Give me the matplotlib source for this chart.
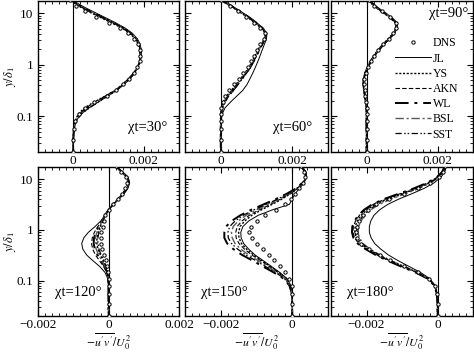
import numpy as np
import matplotlib
matplotlib.use("Agg")
import matplotlib.pyplot as plt
from matplotlib.ticker import FixedLocator, FixedFormatter, MultipleLocator, LogLocator, NullFormatter

plt.rcParams['font.family'] = ['Liberation Serif', 'DejaVu Serif']
plt.rcParams['mathtext.fontset'] = 'stix'

# common wall-normal grid y/delta_1
Y = [18, 14, 11, 8.5, 6.6, 5.2, 4.1, 3.2, 2.5, 1.95, 1.5, 1.17, 0.9, 0.7, 0.54,
     0.42, 0.32, 0.25, 0.19, 0.145, 0.11, 0.08, 0.055, 0.035, 0.02]

series_names = ['DNS', 'JL', 'YS', 'AKN', 'WL', 'BSL', 'SST']
phases = ['30', '60', '90', '120', '150', '180']

# -u'v'/U0^2 in units of 1e-3
p30 = {
 'DNS': [-0.10, 0.08, 0.32, 0.65, 1.00, 1.32, 1.56, 1.73, 1.83, 1.88, 1.90, 1.88, 1.82, 1.72, 1.58, 1.42, 1.22, 0.95, 0.58, 0.32, 0.15, 0.06, 0.02, 0.0, 0.0],
 'JL':  [-0.02, 0.25, 0.55, 0.88, 1.20, 1.47, 1.68, 1.82, 1.90, 1.93, 1.93, 1.90, 1.84, 1.75, 1.62, 1.45, 1.24, 1.00, 0.72, 0.45, 0.22, 0.08, 0.02, 0.0, 0.0],
 'YS':  [-0.08, 0.15, 0.42, 0.75, 1.08, 1.38, 1.60, 1.76, 1.85, 1.89, 1.90, 1.88, 1.82, 1.72, 1.58, 1.41, 1.20, 0.93, 0.60, 0.32, 0.14, 0.05, 0.01, 0.0, 0.0],
 'AKN': [-0.06, 0.18, 0.45, 0.78, 1.12, 1.40, 1.62, 1.77, 1.86, 1.90, 1.91, 1.89, 1.83, 1.73, 1.60, 1.43, 1.22, 0.96, 0.64, 0.36, 0.16, 0.05, 0.01, 0.0, 0.0],
 'WL':  [-0.05, 0.20, 0.48, 0.82, 1.15, 1.43, 1.64, 1.79, 1.87, 1.91, 1.91, 1.89, 1.83, 1.73, 1.59, 1.42, 1.21, 0.95, 0.66, 0.40, 0.19, 0.07, 0.02, 0.0, 0.0],
 'BSL': [-0.04, 0.22, 0.50, 0.84, 1.16, 1.44, 1.65, 1.80, 1.88, 1.91, 1.91, 1.89, 1.83, 1.73, 1.60, 1.43, 1.23, 0.98, 0.70, 0.44, 0.21, 0.07, 0.02, 0.0, 0.0],
 'SST': [-0.04, 0.21, 0.49, 0.83, 1.15, 1.43, 1.64, 1.79, 1.87, 1.90, 1.91, 1.89, 1.83, 1.73, 1.60, 1.43, 1.23, 0.99, 0.72, 0.46, 0.23, 0.08, 0.02, 0.0, 0.0],
}
p60 = {
 'DNS': [0.0, 0.25, 0.48, 0.72, 0.93, 1.11, 1.23, 1.20, 1.11, 1.02, 0.93, 0.85, 0.75, 0.63, 0.50, 0.37, 0.24, 0.12, 0.05, 0.02, 0.0, 0.0, 0.0, 0.0, 0.0],
 'JL':  [0.05, 0.32, 0.56, 0.80, 1.01, 1.19, 1.29, 1.28, 1.22, 1.16, 1.10, 1.04, 0.97, 0.90, 0.82, 0.74, 0.62, 0.46, 0.28, 0.12, 0.04, 0.01, 0.0, 0.0, 0.0],
 'YS':  [0.0, 0.27, 0.50, 0.74, 0.95, 1.13, 1.25, 1.22, 1.13, 1.04, 0.96, 0.88, 0.79, 0.68, 0.56, 0.43, 0.30, 0.17, 0.07, 0.02, 0.0, 0.0, 0.0, 0.0, 0.0],
 'AKN': [0.02, 0.28, 0.52, 0.76, 0.97, 1.15, 1.26, 1.23, 1.15, 1.06, 0.98, 0.90, 0.81, 0.70, 0.58, 0.46, 0.33, 0.20, 0.09, 0.03, 0.01, 0.0, 0.0, 0.0, 0.0],
 'WL':  [0.03, 0.30, 0.54, 0.78, 0.99, 1.16, 1.27, 1.24, 1.16, 1.08, 1.00, 0.92, 0.83, 0.72, 0.60, 0.48, 0.35, 0.22, 0.11, 0.04, 0.01, 0.0, 0.0, 0.0, 0.0],
 'BSL': [0.02, 0.29, 0.53, 0.77, 0.98, 1.15, 1.26, 1.23, 1.15, 1.07, 0.99, 0.91, 0.82, 0.71, 0.59, 0.47, 0.34, 0.21, 0.10, 0.04, 0.01, 0.0, 0.0, 0.0, 0.0],
 'SST': [0.02, 0.29, 0.53, 0.77, 0.98, 1.15, 1.26, 1.24, 1.16, 1.08, 1.00, 0.92, 0.83, 0.73, 0.61, 0.49, 0.36, 0.23, 0.12, 0.05, 0.02, 0.0, 0.0, 0.0, 0.0],
}
p90 = {
 'DNS': [0.08, 0.22, 0.43, 0.66, 0.83, 0.84, 0.76, 0.62, 0.47, 0.33, 0.21, 0.12, 0.04, -0.02, -0.06, -0.07, -0.05, -0.03, -0.01, 0.0, 0.0, 0.0, 0.0, 0.0, 0.0],
 'JL':  [0.10, 0.25, 0.47, 0.70, 0.86, 0.87, 0.79, 0.65, 0.50, 0.36, 0.24, 0.14, 0.05, -0.02, -0.07, -0.09, -0.08, -0.05, -0.02, -0.01, 0.0, 0.0, 0.0, 0.0, 0.0],
 'YS':  [0.06, 0.20, 0.41, 0.64, 0.81, 0.83, 0.75, 0.61, 0.46, 0.32, 0.20, 0.10, 0.02, -0.04, -0.08, -0.09, -0.07, -0.04, -0.02, 0.0, 0.0, 0.0, 0.0, 0.0, 0.0],
 'AKN': [0.07, 0.21, 0.42, 0.65, 0.82, 0.84, 0.76, 0.62, 0.47, 0.33, 0.21, 0.11, 0.03, -0.04, -0.09, -0.10, -0.08, -0.05, -0.02, 0.0, 0.0, 0.0, 0.0, 0.0, 0.0],
 'WL':  [0.09, 0.24, 0.45, 0.68, 0.84, 0.85, 0.77, 0.63, 0.48, 0.34, 0.22, 0.12, 0.04, -0.03, -0.08, -0.09, -0.07, -0.04, -0.02, 0.0, 0.0, 0.0, 0.0, 0.0, 0.0],
 'BSL': [0.08, 0.23, 0.44, 0.67, 0.83, 0.85, 0.77, 0.63, 0.48, 0.34, 0.22, 0.12, 0.03, -0.03, -0.08, -0.10, -0.08, -0.05, -0.02, 0.0, 0.0, 0.0, 0.0, 0.0, 0.0],
 'SST': [0.08, 0.23, 0.44, 0.67, 0.84, 0.86, 0.78, 0.64, 0.49, 0.35, 0.23, 0.13, 0.04, -0.03, -0.07, -0.08, -0.07, -0.04, -0.02, 0.0, 0.0, 0.0, 0.0, 0.0, 0.0],
}
p120 = {
 'DNS': [0.20, 0.36, 0.50, 0.53, 0.48, 0.38, 0.26, 0.12, 0.01, -0.09, -0.14, -0.17, -0.20, -0.22, -0.22, -0.18, -0.12, -0.07, -0.03, -0.01, 0.0, 0.0, 0.0, 0.0, 0.0],
 'JL':  [0.22, 0.40, 0.56, 0.60, 0.55, 0.44, 0.30, 0.14, 0.0, -0.08, -0.22, -0.38, -0.57, -0.70, -0.76, -0.73, -0.62, -0.45, -0.25, -0.10, -0.02, 0.0, 0.0, 0.0, 0.0],
 'YS':  [0.20, 0.37, 0.52, 0.55, 0.50, 0.39, 0.27, 0.12, 0.0, -0.10, -0.17, -0.24, -0.29, -0.33, -0.33, -0.30, -0.23, -0.15, -0.07, -0.02, 0.0, 0.0, 0.0, 0.0, 0.0],
 'AKN': [0.21, 0.38, 0.53, 0.57, 0.52, 0.41, 0.28, 0.13, 0.0, -0.10, -0.20, -0.30, -0.40, -0.46, -0.48, -0.45, -0.37, -0.26, -0.14, -0.05, -0.01, 0.0, 0.0, 0.0, 0.0],
 'WL':  [0.21, 0.38, 0.54, 0.58, 0.53, 0.42, 0.28, 0.13, 0.0, -0.10, -0.19, -0.28, -0.36, -0.41, -0.42, -0.39, -0.31, -0.21, -0.11, -0.04, -0.01, 0.0, 0.0, 0.0, 0.0],
 'BSL': [0.20, 0.37, 0.53, 0.57, 0.52, 0.41, 0.28, 0.13, 0.0, -0.10, -0.18, -0.26, -0.33, -0.37, -0.38, -0.35, -0.28, -0.19, -0.10, -0.03, 0.0, 0.0, 0.0, 0.0, 0.0],
 'SST': [0.21, 0.38, 0.54, 0.58, 0.53, 0.42, 0.29, 0.14, 0.01, -0.09, -0.16, -0.22, -0.27, -0.30, -0.30, -0.27, -0.21, -0.14, -0.07, -0.02, 0.0, 0.0, 0.0, 0.0, 0.0],
}
p150 = {
 'DNS': [0.25, 0.33, 0.35, 0.30, 0.20, 0.08, -0.03, -0.20, -0.45, -0.75, -1.00, -1.15, -1.20, -1.12, -0.98, -0.82, -0.66, -0.50, -0.35, -0.20, -0.08, -0.02, 0.0, 0.0, 0.0],
 'JL':  [0.28, 0.38, 0.40, 0.33, 0.20, 0.08, 0.0, -0.08, -0.55, -0.95, -1.22, -1.38, -1.44, -1.43, -1.36, -1.22, -1.04, -0.82, -0.58, -0.35, -0.15, -0.04, 0.0, 0.0, 0.0],
 'YS':  [0.27, 0.37, 0.39, 0.31, 0.16, -0.05, -0.28, -0.56, -0.86, -1.13, -1.33, -1.46, -1.50, -1.49, -1.42, -1.28, -1.08, -0.85, -0.61, -0.37, -0.16, -0.05, 0.0, 0.0, 0.0],
 'AKN': [0.27, 0.37, 0.39, 0.31, 0.15, -0.07, -0.32, -0.61, -0.92, -1.20, -1.41, -1.54, -1.58, -1.57, -1.49, -1.34, -1.13, -0.89, -0.64, -0.40, -0.18, -0.05, -0.01, 0.0, 0.0],
 'WL':  [0.25, 0.36, 0.38, 0.28, 0.10, -0.15, -0.45, -0.80, -1.15, -1.45, -1.70, -1.85, -1.90, -1.90, -1.82, -1.65, -1.40, -1.12, -0.82, -0.52, -0.25, -0.08, -0.01, 0.0, 0.0],
 'BSL': [0.26, 0.37, 0.38, 0.30, 0.13, -0.10, -0.36, -0.67, -1.00, -1.29, -1.51, -1.65, -1.70, -1.68, -1.60, -1.44, -1.22, -0.96, -0.70, -0.43, -0.20, -0.06, -0.01, 0.0, 0.0],
 'SST': [0.26, 0.36, 0.38, 0.29, 0.12, -0.12, -0.40, -0.73, -1.07, -1.37, -1.60, -1.75, -1.80, -1.79, -1.70, -1.53, -1.30, -1.03, -0.75, -0.47, -0.22, -0.07, -0.01, 0.0, 0.0],
}
p180 = {
 'DNS': [0.22, 0.16, 0.03, -0.22, -0.55, -0.95, -1.38, -1.72, -1.95, -2.10, -2.22, -2.28, -2.30, -2.26, -2.15, -1.92, -1.62, -1.35, -0.95, -0.55, -0.25, -0.07, -0.01, 0.0, 0.0],
 'JL':  [0.24, 0.20, 0.10, -0.10, -0.38, -0.72, -1.08, -1.40, -1.63, -1.79, -1.88, -1.92, -1.92, -1.87, -1.77, -1.60, -1.38, -1.12, -0.80, -0.48, -0.22, -0.07, -0.01, 0.0, 0.0],
 'YS':  [0.21, 0.15, 0.02, -0.25, -0.60, -1.00, -1.42, -1.76, -1.99, -2.15, -2.26, -2.32, -2.33, -2.29, -2.18, -1.96, -1.66, -1.36, -0.96, -0.56, -0.25, -0.07, -0.01, 0.0, 0.0],
 'AKN': [0.21, 0.14, 0.0, -0.28, -0.64, -1.05, -1.47, -1.81, -2.04, -2.20, -2.31, -2.37, -2.38, -2.34, -2.22, -2.00, -1.70, -1.39, -1.00, -0.59, -0.27, -0.08, -0.01, 0.0, 0.0],
 'WL':  [0.20, 0.13, -0.02, -0.30, -0.67, -1.09, -1.50, -1.84, -2.07, -2.23, -2.34, -2.40, -2.41, -2.37, -2.25, -2.03, -1.74, -1.42, -1.03, -0.62, -0.29, -0.09, -0.02, 0.0, 0.0],
 'BSL': [0.22, 0.17, 0.05, -0.20, -0.52, -0.90, -1.30, -1.64, -1.88, -2.04, -2.16, -2.22, -2.24, -2.20, -2.10, -1.90, -1.62, -1.32, -0.94, -0.56, -0.26, -0.08, -0.01, 0.0, 0.0],
 'SST': [0.22, 0.16, 0.04, -0.23, -0.56, -0.95, -1.36, -1.70, -1.93, -2.09, -2.20, -2.26, -2.28, -2.24, -2.13, -1.92, -1.64, -1.34, -0.95, -0.57, -0.26, -0.08, -0.01, 0.0, 0.0],
}
panels = [p30, p60, p90, p120, p150, p180]

xlims = [(-0.001, 0.003), (-0.001, 0.003), (-0.001, 0.003),
         (-0.002, 0.002), (-0.003, 0.001), (-0.003, 0.001)]
xtick_vals = [[0, 0.002], [0, 0.002], [0, 0.002],
              [-0.002, 0, 0.002], [-0.002, 0], [-0.002, 0]]
xtick_labels = [['0', '0.002'], ['0', '0.002'], ['0', '0.002'],
                ['\u22120.002', '0', '0.002'], ['\u22120.002', '0'], ['\u22120.002', '0']]
ytick_vals = [0.1, 1, 10]
ytick_labels = ['0.1', '1', '10']
xlabel_text = r"$-\overline{u^{\prime}v^{\prime}}/U_0^2$"

styles = {
 'JL':  dict(color='black', lw=0.7, ls='-'),
 'YS':  dict(color='black', lw=1.0, ls=(0, (1.5, 1.2))),
 'AKN': dict(color='black', lw=0.8, ls=(0, (4, 2))),
 'WL':  dict(color='black', lw=1.4, ls=(0, (7, 3, 1.5, 3))),
 'BSL': dict(color='0.35', lw=1.0, ls=(0, (6, 2, 1.5, 2))),
 'SST': dict(color='black', lw=0.9, ls=(0, (5, 2, 1.2, 1.5, 1.2, 2))),
}

W, H = 474, 353
fig = plt.figure(figsize=(W / 100, H / 100), dpi=100)
cols = [(38, 141), (185, 143), (331, 142)]
rows = [(1, 151), (167, 149)]

axes = []
for r, (top, h) in enumerate(rows):
    for c, (left, w) in enumerate(cols):
        ax = fig.add_axes([left / W, (H - top - h) / H, w / W, h / H])
        axes.append(ax)

text_pos = [(0.92, 0.16, 'right'), (0.89, 0.16, 'right'), (0.97, 0.92, 'right'),
            (0.12, 0.16, 'left'), (0.11, 0.16, 'left'), (0.11, 0.16, 'left')]

for i, ax in enumerate(axes):
    d = panels[i]
    ax.axvline(0, color='black', lw=0.8, zorder=1)
    for name in series_names[1:]:
        ax.plot(np.array(d[name]) * 1e-3, Y, label=name, **styles[name])
    ax.plot(np.array(d['DNS']) * 1e-3, Y, ls='none', marker='o', ms=2.4,
            mfc='white', mec='black', mew=0.7, label='DNS', zorder=5)
    ax.set_yscale('log')
    ax.set_ylim(0.02, 17.5)
    ax.set_xlim(*xlims[i])
    ax.xaxis.set_major_locator(FixedLocator(xtick_vals[i]))
    ax.xaxis.set_minor_locator(MultipleLocator(0.0002))
    ax.yaxis.set_major_locator(FixedLocator(ytick_vals))
    ax.yaxis.set_minor_locator(LogLocator(base=10, subs=np.arange(2, 10)))
    ax.yaxis.set_minor_formatter(NullFormatter())
    ax.tick_params(which='both', direction='in', top=True, right=True, labelsize=9.5)
    ax.tick_params(which='major', length=4.5, width=0.8)
    ax.tick_params(which='minor', length=2.5, width=0.6)
    ax.tick_params(axis='x', which='major', pad=2)
    ax.xaxis.set_major_formatter(FixedFormatter(xtick_labels[i]))
    if i % 3 == 0:
        ax.yaxis.set_major_formatter(FixedFormatter(ytick_labels))
        ax.set_ylabel(r'$y/\delta_1$', fontsize=9)
        ax.yaxis.set_label_coords(-0.145, 0.5)
    else:
        ax.yaxis.set_major_formatter(NullFormatter())
    if i >= 3:
        # x label placed just above the lower figure edge
        fig.text((cols[i - 3][0] + cols[i - 3][1] / 2) / W, 1.0 / H, xlabel_text,
                 ha='center', va='bottom', fontsize=8.5)
    for sp in ax.spines.values():
        sp.set_linewidth(1.0)
    tx, ty, ha = text_pos[i]
    ax.text(tx, ty, '\u03c7t=' + phases[i] + '\u00b0', transform=ax.transAxes,
            ha=ha, va='center', fontsize=10.5)

# legend in third panel
ax3 = axes[2]
handles, labels = ax3.get_legend_handles_labels()
order = [labels.index(n) for n in series_names]
ax3.legend([handles[k] for k in order], [labels[k] for k in order],
           loc='upper left', bbox_to_anchor=(0.42, 0.79), frameon=False,
           fontsize=8.5, handlelength=3.0, handletextpad=0.15,
           labelspacing=0.27, borderaxespad=0, numpoints=1)

fig.savefig('out.png', dpi=100)
